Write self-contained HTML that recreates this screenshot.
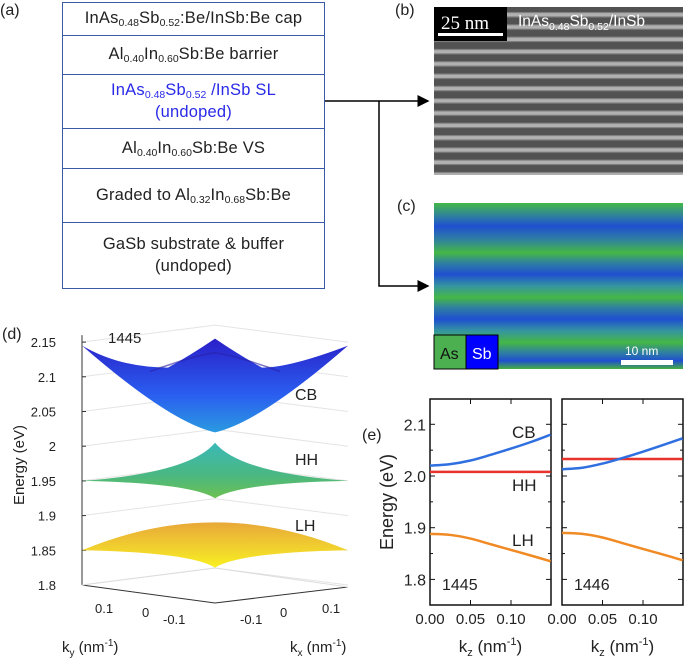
<!DOCTYPE html>
<html><head><meta charset="utf-8">
<style>
html,body{margin:0;padding:0;background:#fff;}
body{width:685px;height:660px;position:relative;overflow:hidden;font-family:"Liberation Sans",sans-serif;}
.stack{position:absolute;left:62px;top:2px;width:263px;border:1.5px solid #3a5aa8;box-sizing:border-box;}
.row{border-bottom:1.5px solid #3a5aa8;box-sizing:border-box;display:flex;align-items:center;justify-content:center;text-align:center;font-size:16.5px;letter-spacing:0.2px;color:#222;line-height:1.3;white-space:nowrap;}
.row:last-child{border-bottom:none;}
sub{font-size:10.5px;vertical-align:-3px;line-height:0;letter-spacing:0;}
.lbl{position:absolute;font-size:16px;color:#222;}
</style></head><body>
<div class="lbl" style="left:0;top:2px">(a)</div>
<div class="stack">
 <div class="row" style="height:33px"><div>InAs<sub>0.48</sub>Sb<sub>0.52</sub>:Be/InSb:Be cap</div></div>
 <div class="row" style="height:39px"><div>Al<sub>0.40</sub>In<sub>0.60</sub>Sb:Be barrier</div></div>
 <div class="row" style="height:54px;color:#2a2ae8"><div>InAs<sub>0.48</sub>Sb<sub>0.52</sub> /InSb SL<br>(undoped)</div></div>
 <div class="row" style="height:40px"><div>Al<sub>0.40</sub>In<sub>0.60</sub>Sb:Be VS</div></div>
 <div class="row" style="height:54px"><div>Graded to Al<sub>0.32</sub>In<sub>0.68</sub>Sb:Be</div></div>
 <div class="row" style="height:65px"><div>GaSb substrate &amp; buffer<br>(undoped)</div></div>
</div>
<div class="lbl" style="left:395px;top:2px">(b)</div>
<div class="lbl" style="left:397px;top:198px">(c)</div>
<div class="lbl" style="left:2px;top:326px">(d)</div>
<div class="lbl" style="left:362px;top:427px">(e)</div>

<svg width="685" height="660" style="position:absolute;left:0;top:0">
<defs>
 <pattern id="tem" width="20" height="12.3" patternUnits="userSpaceOnUse" y="9">
  <rect width="20" height="12.3" fill="#5a5a5a"/>
  <rect y="4" width="20" height="3.5" fill="#c0c0c0"/>
  <rect y="3" width="20" height="1" fill="#8c8c8c"/><rect y="7.5" width="20" height="1" fill="#8c8c8c"/>
 </pattern>
 <linearGradient id="eds" x1="0" y1="0" x2="0" y2="1">
  <stop offset="0" stop-color="#43b848"/><stop offset="0.08" stop-color="#2f7fa0"/>
  <stop offset="0.14" stop-color="#1f4fd0"/><stop offset="0.22" stop-color="#2f80a0"/>
  <stop offset="0.3" stop-color="#44b845"/><stop offset="0.36" stop-color="#2f80a0"/>
  <stop offset="0.43" stop-color="#1f4fd0"/><stop offset="0.5" stop-color="#3595a0"/>
  <stop offset="0.57" stop-color="#45b745"/><stop offset="0.63" stop-color="#2f80a0"/>
  <stop offset="0.7" stop-color="#1f4fd0"/><stop offset="0.77" stop-color="#3595a0"/>
  <stop offset="0.84" stop-color="#45b745"/><stop offset="0.9" stop-color="#2f80a0"/>
  <stop offset="0.95" stop-color="#1f4fd0"/><stop offset="1" stop-color="#44b040"/>
 </linearGradient>
 <linearGradient id="cbg" x1="0" y1="0" x2="0" y2="1"><stop offset="0" stop-color="#2a1fc8"/><stop offset="0.6" stop-color="#2a5ef0"/><stop offset="1" stop-color="#2a9ae0"/></linearGradient>
 <linearGradient id="hhg" x1="0" y1="0" x2="0" y2="1"><stop offset="0" stop-color="#3ab8b8"/><stop offset="0.6" stop-color="#4bb880"/><stop offset="1" stop-color="#6cc050"/></linearGradient>
 <linearGradient id="lhg" x1="0" y1="0" x2="0" y2="1"><stop offset="0" stop-color="#e8a838"/><stop offset="0.5" stop-color="#f0cc30"/><stop offset="1" stop-color="#f8f020"/></linearGradient>
 <marker id="arr" markerWidth="8" markerHeight="8" refX="7" refY="4" orient="auto"><path d="M0,0 L8,4 L0,8 z" fill="#000"/></marker>
</defs>
<path d="M325,101 H428" stroke="#000" stroke-width="1.5" fill="none" marker-end="url(#arr)"/>
<path d="M379,101 V286 H428" stroke="#000" stroke-width="1.5" fill="none" marker-end="url(#arr)"/>
<rect x="434" y="7" width="249" height="168" fill="url(#tem)"/>
<rect x="434" y="7" width="249" height="168" fill="#000" opacity="0.08"/>
<rect x="434" y="7" width="73" height="34" fill="#000"/>
<text x="441" y="29" fill="#fff" font-family="Liberation Serif,serif" font-size="19">25 nm</text>
<rect x="438" y="33" width="65" height="3" fill="#fff"/>
<text x="518" y="26" fill="#fff" font-size="15.5">InAs<tspan font-size="10.5" dy="4">0.48</tspan><tspan dy="-4">Sb</tspan><tspan font-size="10.5" dy="4">0.52</tspan><tspan dy="-4">/InSb</tspan></text>
<rect x="434" y="203" width="249" height="166" fill="url(#eds)"/>
<rect x="434" y="335" width="32" height="34" fill="#4caf50" stroke="#000"/>
<text x="440" y="359" font-size="16" fill="#111">As</text>
<rect x="466" y="335" width="32" height="34" fill="#0000ff" stroke="#000"/>
<text x="472" y="359" font-size="16" fill="#fff">Sb</text>
<rect x="621" y="360" width="52" height="5" fill="#fff"/>
<text x="625" y="355" font-size="12" fill="#fff">10 nm</text>
<g id="d3"></g>
<g id="e"></g>
</svg>
<script>
const NS="http://www.w3.org/2000/svg";
function mk(p,tag,at,txt){const e=document.createElementNS(NS,tag);for(const k in at)e.setAttribute(k,at[k]);if(txt!==undefined)e.textContent=txt;p.appendChild(e);return e;}
const dTicks=[2.15,2.1,2.05,2,1.95,1.9,1.85,1.8];
const dTickLabels=["2.15","2.1","2.05","2","1.95","1.9","1.85","1.8"];
const cbMin=2.02, cbCorner=2.145, cbBack=2.155;
const hhMax=2.005, hhCorner=1.95, hhFront=1.925;
const lhMax=1.89, lhCorner=1.85, lhFront=1.825;
const Ey=v=>585-(v-1.8)/0.05*34.7;
const d=document.getElementById('d3');
dTicks.forEach((t,i)=>{
 const y=Ey(t);
 const g=mk(d,'path',{d:`M82,${y} L215,${y-17} L348,${y}`,stroke:'#e4e4e4','stroke-width':1,fill:'none'});
 
 const tl=mk(d,'text',{x:56,y:y+5,'text-anchor':'end','font-size':13,fill:'#222'},dTickLabels[i]);
 
 mk(d,'line',{x1:82,y1:y,x2:86,y2:y,stroke:'#333'});
});
mk(d,'line',{x1:82,y1:Ey(2.16),x2:82,y2:585,stroke:'#333'});
mk(d,'path',{d:'M82,585 L215,603 L348,587',stroke:'#333',fill:'none'});
mk(d,'path',{d:'M82,585 L215,568 L348,587',stroke:'#ddd',fill:'none'});
{const L=Ey(cbCorner),B=Ey(cbMin),T=Ey(cbBack);
 const p=mk(d,'path',{d:`M82,${L} Q170,${B-10} 215,${B} Q260,${B-10} 348,${L} Q290,${L+22} 262,${L+22} Q240,${L+10} 215,${T} Q190,${L+10} 168,${L+22} Q120,${L+22} 82,${L} Z`,fill:'url(#cbg)'});
 
 mk(d,'path',{d:`M150,${L+26} Q190,${T+18} 215,${T+14} Q240,${T+18} 280,${L+26}`,stroke:'#2a1fa8',fill:'none','stroke-width':1.5,opacity:0.6});}
{const L=Ey(hhCorner),T=Ey(hhMax),B=Ey(hhFront);
 const p=mk(d,'path',{d:`M82,${L} Q190,${L-8} 215,${T} Q240,${L-8} 348,${L} Q240,${L+2} 215,${B} Q190,${L+2} 82,${L} Z`,fill:'url(#hhg)'});
 }
{const L=Ey(lhCorner),T=Ey(lhMax),B=Ey(lhFront);
 const p=mk(d,'path',{d:`M82,${L} Q215,${T-28} 348,${L} Q240,${L+2} 215,${B} Q190,${L+2} 82,${L} Z`,fill:'url(#lhg)'});
 }
[['1445',108,343,15],['CB',295,400,16],['HH',295,465,16],['LH',295,531,16]].forEach(a=>{const t=mk(d,'text',{x:a[1],y:a[2],'font-size':a[3],fill:'#222'},a[0]);});
const kyLabels=["0.1","0","-0.1"], kxLabels=["-0.1","0","0.1"];
[[95,613],[142,617],[163,624]].forEach((p,i)=>{const t=mk(d,'text',{x:p[0],y:p[1],'font-size':13,fill:'#222'},kyLabels[i]);});
[[240,624],[280,617],[322,613]].forEach((p,i)=>{const t=mk(d,'text',{x:p[0],y:p[1],'font-size':13,fill:'#222'},kxLabels[i]);});
{let t=mk(d,'text',{x:62,y:652,'font-size':15,fill:'#222'});t.innerHTML='k<tspan font-size="10" dy="4">y</tspan><tspan dy="-4"> (nm</tspan><tspan font-size="10" dy="-6">-1</tspan><tspan dy="6">)</tspan>';
 t=mk(d,'text',{x:290,y:652,'font-size':15,fill:'#222'});t.innerHTML='k<tspan font-size="10" dy="4">x</tspan><tspan dy="-4"> (nm</tspan><tspan font-size="10" dy="-6">-1</tspan><tspan dy="6">)</tspan>';
 t=mk(d,'text',{x:0,y:0,'font-size':15,fill:'#222','text-anchor':'middle',transform:'translate(24,465) rotate(-90)'},'Energy (eV)');}
const kz=[0,0.025,0.05,0.075,0.1,0.125,0.149];
const cb1445=[2.020,2.023,2.030,2.041,2.053,2.066,2.080];
const hh1445=[2.008,2.008,2.008,2.008,2.008,2.008,2.008];
const lh1445=[1.888,1.886,1.879,1.868,1.857,1.846,1.835];
const cb1446=[2.013,2.016,2.024,2.035,2.047,2.060,2.073];
const hh1446=[2.033,2.033,2.033,2.033,2.033,2.033,2.033];
const lh1446=[1.890,1.888,1.881,1.870,1.859,1.848,1.837];
const eYTicks=[2.1,2.0,1.9,1.8];
const eYLabels=["2.1","2.0","1.9","1.8"];
const eXTicks=[0,0.05,0.1];
const eXLabels=["0.00","0.05","0.10"];
const e=document.getElementById('e');
const Y=v=>476-(v-2.0)/0.1*51.7;
function smooth(pts){let s=`M${pts[0][0]},${pts[0][1]}`;for(let i=0;i<pts.length-1;i++){const p0=pts[i-1]||pts[i],p1=pts[i],p2=pts[i+1],p3=pts[i+2]||p2;
 s+=` C${p1[0]+(p2[0]-p0[0])/6},${p1[1]+(p2[1]-p0[1])/6} ${p2[0]-(p3[0]-p1[0])/6},${p2[1]-(p3[1]-p1[1])/6} ${p2[0]},${p2[1]}`;}return s;}
function panel(x0,name,cb,hh,lh,yl){
 const X=k=>x0+k/0.05*40.5;
 const f=mk(e,'rect',{x:x0,y:399,width:121,height:206,fill:'none',stroke:'#111','stroke-width':1.5});
 
 eYTicks.forEach((t,i)=>{mk(e,'line',{x1:x0,y1:Y(t),x2:x0+5,y2:Y(t),stroke:'#111'});mk(e,'line',{x1:x0+121,y1:Y(t),x2:x0+116,y2:Y(t),stroke:'#111'});
  const ym=Y(t-0.05);if(ym<605){mk(e,'line',{x1:x0,y1:ym,x2:x0+3,y2:ym,stroke:'#111'});mk(e,'line',{x1:x0+121,y1:ym,x2:x0+118,y2:ym,stroke:'#111'});}
  if(yl){const tl=mk(e,'text',{x:x0-4,y:Y(t)+6,'text-anchor':'end','font-size':16,fill:'#222'},eYLabels[i]);}});
 eXTicks.forEach((t,i)=>{mk(e,'line',{x1:X(t),y1:605,x2:X(t),y2:600,stroke:'#111'});mk(e,'line',{x1:X(t),y1:399,x2:X(t),y2:404,stroke:'#111'});
  const tl=mk(e,'text',{x:X(t),y:624,'text-anchor':'middle','font-size':15,fill:'#222'},eXLabels[i]);});
 const line=(arr,col,nm)=>{const p=mk(e,'path',{d:smooth(kz.map((k,i)=>[X(k),Y(arr[i])])),fill:'none',stroke:col,'stroke-width':2.5});};
 line(hh,'#e8332c','hh-line');line(cb,'#2f6fe0','cb-line');line(lh,'#f08a24','lh-line');
 const s=mk(e,'text',{x:x0+12,y:590,'font-size':16,fill:'#222'},name);
 const t=mk(e,'text',{x:x0+121/2,y:652,'text-anchor':'middle','font-size':17,fill:'#222'});t.innerHTML='k<tspan font-size="11" dy="4">z</tspan><tspan dy="-4"> (nm</tspan><tspan font-size="11" dy="-7">-1</tspan><tspan dy="7">)</tspan>';
}
panel(430,'1445',cb1445,hh1445,lh1445,true);
panel(562,'1446',cb1446,hh1446,lh1446,false);
[['CB',512,438],['HH',512,491],['LH',512,546]].forEach(a=>{const t=mk(e,'text',{x:a[1],y:a[2],'font-size':17,fill:'#222'},a[0]);});
{const t=mk(e,'text',{x:0,y:0,'font-size':18,fill:'#222','text-anchor':'middle',transform:'translate(393,502) rotate(-90)'},'Energy (eV)');}
</script>
</body></html>
